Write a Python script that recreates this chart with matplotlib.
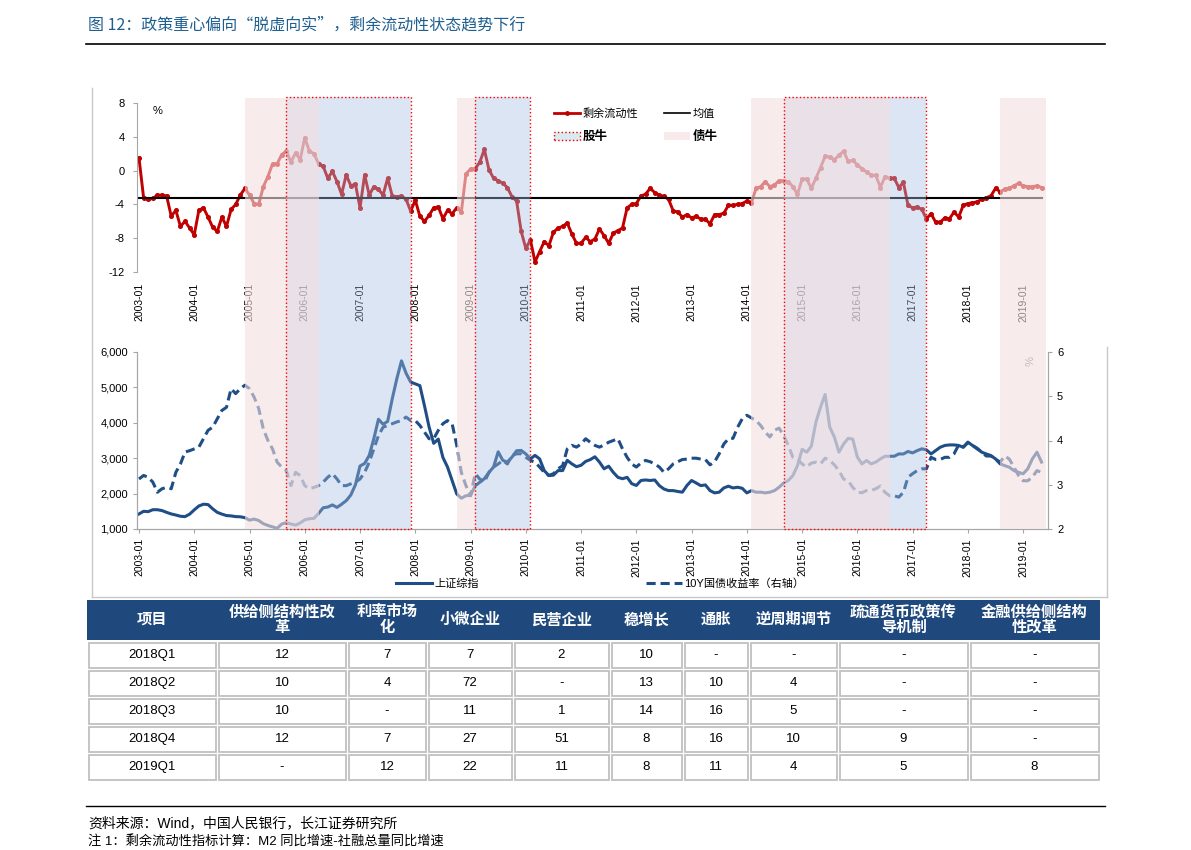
import numpy as np
import matplotlib.pyplot as plt
from matplotlib.patches import Rectangle, Patch
from matplotlib.lines import Line2D
from matplotlib.transforms import blended_transform_factory

plt.rcParams['font.family'] = ['Liberation Sans', 'Noto Sans CJK SC']
plt.rcParams['axes.unicode_minus'] = False

W, H = 1191, 850

# ---- data (monthly, starting 2003-01) ----
start_year = 2003
liquidity = [
    1.5, -3.2, -3.4, -3.3, -2.9, -2.9, -3.0, -5.4, -4.7, -6.6, -6.0, -6.8,
    -7.6, -4.7, -4.4, -5.5, -6.7, -7.2, -5.5, -6.6, -4.6, -4.0, -2.9, -2.1,
    -2.9, -3.9, -4.0, -1.9, -0.7, 0.8, 0.8, 1.9, 2.3, 1.0, 2.1, 1.3,
    3.9, 2.3, 2.0, 0.8, 0.5, -0.9, -0.1, -1.3, -2.8, -0.5, -1.8, -1.6,
    -4.4, -0.5, -2.9, -1.9, -2.2, -2.9, -0.9, -3.0, -3.1, -3.0, -3.4, -4.8,
    -3.5, -5.4, -6.0, -5.3, -4.4, -4.3, -5.7, -4.7, -5.1, -4.4, -4.9, -0.4,
    0.2, 0.2, 1.0, 2.5, 0.1, -0.9, -1.2, -1.5, -2.0, -3.1, -3.6, -7.2,
    -9.2, -8.2, -10.8, -9.6, -8.4, -8.9, -7.3, -6.8, -6.6, -6.2, -7.5, -8.6,
    -8.6, -7.9, -8.4, -8.1, -6.9, -7.7, -8.6, -7.4, -7.1, -6.8, -4.4, -4.0,
    -3.9, -3.0, -2.8, -2.1, -2.6, -2.9, -3.05, -3.4, -4.75, -4.9, -5.5, -5.2,
    -5.6, -5.4, -5.75, -5.75, -6.3, -5.2, -5.2, -5.05, -4.1, -4.1, -4.0, -3.9,
    -3.6, -3.8, -2.1, -1.9, -1.3, -1.9, -1.7, -1.2, -1.2, -1.3, -1.9, -2.8,
    -1.0, -1.0, -2.1, -0.9, 0.35, 1.7, 1.6, 1.3, 1.8, 2.3, 1.1, 1.2,
    0.7, 0.2, -0.15, -0.55, -0.55, -2.0, -0.7, -0.9, -0.9, -2.0, -1.4, -4.1,
    -4.4, -4.3, -4.6, -5.7, -5.1, -6.1, -6.1, -5.6, -5.7, -4.9, -5.5, -4.1,
    -3.9, -3.8, -3.7, -3.4, -3.2, -3.0, -2.1, -2.5, -2.2, -2.1, -1.8, -1.5,
    -1.8, -1.9, -1.9, -1.8, -2.0,
]
liquidity_mean = -3.3

sse = [
    1425, 1500, 1490, 1545, 1545, 1520, 1470, 1425, 1395, 1360, 1350, 1420,
    1540, 1650, 1700, 1690, 1570, 1470, 1420, 1380, 1370, 1350, 1345, 1320,
    1250, 1280, 1240, 1150, 1100, 1060, 1020, 1140, 1180, 1140, 1110, 1170,
    1260, 1290, 1300, 1440, 1600, 1620, 1680, 1610, 1700, 1800, 1960, 2250,
    2780, 2850, 3080, 3550, 4100, 3960, 4040, 4680, 5250, 5750, 5400, 5150,
    5100, 5050, 4480, 3880, 3420, 3540, 3020, 2750, 2370, 1990, 1870, 1940,
    1950, 2220, 2320, 2420, 2600, 2750, 3180, 2940, 2890, 3030, 3210, 3220,
    3120, 2980, 3080, 2980, 2650, 2510, 2520, 2650, 2650, 2940, 2840, 2760,
    2800, 2910, 2960, 3040, 2890, 2700, 2775, 2600, 2460, 2420, 2460, 2280,
    2230, 2370, 2385, 2370, 2385, 2225, 2130, 2085, 2085, 2060, 2040, 2230,
    2370, 2300, 2225, 2245, 2085, 2020, 2040, 2160, 2210, 2160, 2180, 2150,
    2020, 2085, 2040, 2040, 2020, 2040, 2085, 2180, 2300, 2370, 2510, 2790,
    3250, 3170, 3340, 4020, 4440, 4800, 3880, 3600, 3170, 3400, 3560, 3540,
    3030, 2840, 2935, 2840, 2890, 2980, 3055, 3055, 3055, 3120, 3120, 3190,
    3150, 3215, 3265, 3235, 3120, 3215, 3310, 3360, 3375, 3375, 3360, 3310,
    3455, 3360, 3285, 3170, 3120, 3075, 2980, 2840, 2790, 2745, 2650, 2600,
    2560, 2700, 2980, 3170, 2890,
]

yield10y = [
    3.13, 3.21, 3.17, 3.06, 2.83, 2.91, 2.94, 2.91, 3.28, 3.47, 3.74, 3.77,
    3.81, 3.85, 4.04, 4.23, 4.30, 4.49, 4.68, 4.75, 5.17, 5.06, 5.17, 5.25,
    5.17, 4.98, 4.72, 4.26, 4.00, 3.81, 3.51, 3.40, 3.32, 2.98, 3.28, 3.21,
    2.98, 2.91, 2.94, 2.98, 3.06, 3.17, 3.25, 3.13, 2.98, 2.98, 3.02, 3.06,
    3.13, 3.28, 3.51, 3.81, 4.11, 4.30, 4.34, 4.38, 4.42, 4.45, 4.53, 4.45,
    4.45, 4.34, 4.19, 4.04, 4.04, 4.23, 4.38, 4.45, 4.38, 3.89, 3.28, 2.98,
    2.75, 3.25, 3.13, 3.06, 3.28, 3.40, 3.47, 3.55, 3.47, 3.66, 3.70, 3.70,
    3.62, 3.55, 3.51, 3.40, 3.28, 3.21, 3.25, 3.36, 3.43, 3.81, 3.89, 3.85,
    3.92, 4.04, 3.96, 3.89, 3.85, 3.90, 3.96, 4.00, 4.04, 3.81, 3.62, 3.47,
    3.40, 3.49, 3.55, 3.52, 3.47, 3.40, 3.28, 3.36, 3.47, 3.52, 3.57, 3.58,
    3.60, 3.60, 3.58, 3.57, 3.45, 3.52, 3.70, 3.92, 4.04, 4.05, 4.30, 4.49,
    4.57, 4.51, 4.45, 4.34, 4.19, 4.08, 4.23, 4.28, 4.11, 3.89, 3.62, 3.58,
    3.47, 3.40, 3.49, 3.51, 3.47, 3.60, 3.55, 3.45, 3.32, 3.13, 3.09, 2.94,
    2.83, 2.82, 2.87, 2.87, 2.91, 2.97, 2.83, 2.75, 2.75, 2.72, 2.83, 3.17,
    3.25, 3.32, 3.36, 3.36, 3.62, 3.57, 3.57, 3.62, 3.62, 3.70, 3.90, 3.85,
    3.95, 3.89, 3.81, 3.74, 3.65, 3.65, 3.58, 3.51, 3.65, 3.58, 3.40, 3.21,
    3.09, 3.09, 3.17, 3.32, 3.28,
]

bond_bull = [("2004-12", "2006-04"), ("2008-10", "2009-02"),
             ("2014-02", "2016-08"), ("2018-08", "2019-06")]
stock_bull = [("2005-09", "2007-12"), ("2009-02", "2010-02"), ("2014-09", "2017-04")]

years = list(range(2003, 2020))
year_labels = [f"{y}-01" for y in years]

table_header = ['项目', '供给侧结构性改\n革', '利率市场\n化', '小微企业', '民营企业',
                '稳增长', '通胀', '逆周期调节', '疏通货币政策传\n导机制', '金融供给侧结构\n性改革']
quarters = ['2018Q1', '2018Q2', '2018Q3', '2018Q4', '2019Q1']
table_rows = [
    ['12', '7', '7', '2', '10', '-', '-', '-', '-'],
    ['10', '4', '72', '-', '13', '10', '4', '-', '-'],
    ['10', '-', '11', '1', '14', '16', '5', '-', '-'],
    ['12', '7', '27', '51', '8', '16', '10', '9', '-'],
    ['-', '12', '22', '11', '8', '11', '4', '5', '8'],
]

title = '图 12：政策重心偏向“脱虚向实”，剩余流动性状态趋势下行'
source = '资料来源：Wind，中国人民银行，长江证券研究所'
note = '注 1：剩余流动性指标计算：M2 同比增速-社融总量同比增速'


def ym(s):
    y, m = s.split('-')
    return int(y) + (int(m) - 1) / 12


def months(n):
    return start_year + np.arange(n) / 12


def fax(l, t, r, b):
    return [l / W, 1 - b / H, (r - l) / W, (b - t) / H]


red = '#c00000'
navy = '#1f4e87'
grey = '#a6a6a6'

fig = plt.figure(figsize=(W / 100, H / 100), dpi=100)
bg = fig.add_axes([0, 0, 1, 1], zorder=-1)
bg.set_xlim(0, W)
bg.set_ylim(H, 0)
bg.axis('off')

xlim = (2002.964, 2019.45)

# ---- top chart: residual liquidity ----
ax1 = fig.add_axes(fax(137, 103, 1048, 272))
ax1.set_facecolor('none')
x_liq = months(len(liquidity))
ax1.plot(x_liq, liquidity, color=red, lw=2.1, marker='o', ms=2.6)
ax1.plot([x_liq[0], x_liq[-1]], [liquidity_mean] * 2, color='black', lw=1.5)
ax1.set_xlim(*xlim)
ax1.set_ylim(-12, 8)
ax1.set_yticks([-12, -8, -4, 0, 4, 8])
ax1.set_xticks(years)
ax1.set_xticklabels(year_labels, rotation=90)
for s in ['top', 'right', 'bottom']:
    ax1.spines[s].set_visible(False)
ax1.spines['left'].set_color(grey)
ax1.tick_params(axis='y', length=3, color=grey, labelsize=8, pad=6)
ax1.tick_params(axis='x', length=0, labelsize=7.5, pad=8)
ax1.text(2003.33, 7.0, '%', fontsize=8, va='center', ha='center')

# ---- bottom chart: SSE and 10Y yield ----
ax2 = fig.add_axes(fax(137, 352, 1048, 529))
ax2.set_facecolor('none')
ax2.plot(months(len(sse)), sse, color=navy, lw=2.2)
ax2.set_xlim(*xlim)
ax2.set_ylim(1000, 6000)
ax2.set_yticks(range(1000, 6001, 1000))
ax2.set_yticklabels([f"{v:,}" for v in range(1000, 6001, 1000)])
ax2.set_xticks(years)
ax2.set_xticklabels(year_labels, rotation=90)
ax2r = ax2.twinx()
ax2r.plot(months(len(yield10y)), yield10y, color=navy, lw=2.2, ls=(0, (3, 1.6)))
ax2r.set_ylim(2, 6)
ax2r.set_yticks([2, 3, 4, 5, 6])
for a in (ax2, ax2r):
    a.spines['top'].set_visible(False)
    for s in ['left', 'right', 'bottom']:
        a.spines[s].set_color(grey)
    a.tick_params(length=3, color=grey, labelsize=8)
ax2.tick_params(axis='x', labelsize=7.5)
ax2r.text(2019.07, 5.8, '%', fontsize=8, color='#7f7f7f', rotation=-90,
          ha='center', va='center')

# ---- bull market shading over both charts ----
tr = blended_transform_factory(ax1.transData, fig.transFigure)
for a, b in stock_bull:
    fig.add_artist(Rectangle((ym(a), 1 - 529 / H), ym(b) - ym(a), (529 - 97) / H,
                             transform=tr, facecolor='#a5bee1', alpha=0.4,
                             edgecolor='none', zorder=3))
for a, b in bond_bull:
    fig.add_artist(Rectangle((ym(a), 1 - 529 / H), ym(b) - ym(a), (529 - 98) / H,
                             transform=tr, facecolor='#f3dfdf', alpha=0.6,
                             edgecolor='none', zorder=4))
for a, b in stock_bull:
    fig.add_artist(Rectangle((ym(a), 1 - 529 / H), ym(b) - ym(a), (529 - 97) / H,
                             transform=tr, fill=False, edgecolor='#ff0000',
                             ls=':', lw=1, zorder=5))

# ---- legends ----
h_liq = Line2D([], [], color=red, lw=2, marker='o', ms=2.5)
h_mean = Line2D([], [], color='black', lw=1.2)
h_stock = Patch(facecolor='#dbe9f1', edgecolor='#e00000', ls=':', lw=1)
h_bond = Patch(facecolor='#f8eaea', edgecolor='none')
leg1 = fig.legend([h_liq, h_stock, h_mean, h_bond], ['剩余流动性', '股牛', '均值', '债牛'],
                  ncol=2, loc='upper left', bbox_to_anchor=(544 / W, 1 - 98 / H),
                  frameon=False, fontsize=8, handlelength=2.3, handletextpad=0.3,
                  columnspacing=2.3, labelspacing=1.1)
for t in leg1.get_texts()[1::2]:
    t.set_fontweight('bold')
    t.set_fontsize(9)

h_sse = Line2D([], [], color=navy, lw=2.2)
h_yld = Line2D([], [], color=navy, lw=2.2, ls=(0, (3, 1.6)))
fig.legend([h_sse, h_yld], ['上证综指', '10Y国债收益率（右轴）'], ncol=2, loc='center',
           bbox_to_anchor=(600 / W, 1 - 584 / H), frameon=False, fontsize=8,
           handlelength=3.3, handletextpad=0.2, columnspacing=15)

# ---- frame around the charts ----
fc = '#c8c8c8'
bg.plot([92, 92], [88, 597], color=fc, lw=1)
bg.plot([92, 1107], [597, 597], color=fc, lw=1)
bg.plot([1107, 1107], [347, 597], color=fc, lw=1)

# ---- title and footer ----
bg.text(88, 25, title, color='#1f5f8f', fontsize=11.5, va='center', ha='left',
        family=['Noto Sans CJK SC'])
bg.plot([86, 1105], [44, 44], color='black', lw=1.2)
bg.plot([86, 1105], [806, 806], color='black', lw=1)
bg.text(88, 823, source, fontsize=10, va='center', ha='left')
bg.text(88, 842, note, fontsize=9.5, va='center', ha='left')

# ---- table ----
cols_x = [87, 217, 347, 427, 513, 610, 683, 749, 838, 969, 1100]
head_top, head_bot = 600, 640
row_h = 28
bg.add_patch(Rectangle((cols_x[0], head_top), cols_x[-1] - cols_x[0], head_bot - head_top,
                       facecolor='#1f497d', edgecolor='none'))
for j, lab in enumerate(table_header):
    xc = (cols_x[j] + cols_x[j + 1]) / 2
    bg.text(xc, (head_top + head_bot) / 2, lab, color='white', fontsize=11,
            fontweight='bold', ha='center', va='center', linespacing=1.1)
for i, q in enumerate(quarters):
    y0 = head_bot + 1 + i * row_h
    cells = [q] + table_rows[i]
    for j, val in enumerate(cells):
        x0 = cols_x[j]
        bg.add_patch(Rectangle((x0 + 1.5, y0 + 1.5), cols_x[j + 1] - x0 - 3, row_h - 3,
                               facecolor='white', edgecolor='#c0c0c0', lw=1.3))
        bg.text((x0 + cols_x[j + 1]) / 2, y0 + row_h / 2, val, fontsize=9.5,
                ha='center', va='center')

fig.savefig('out.png', dpi=100)
